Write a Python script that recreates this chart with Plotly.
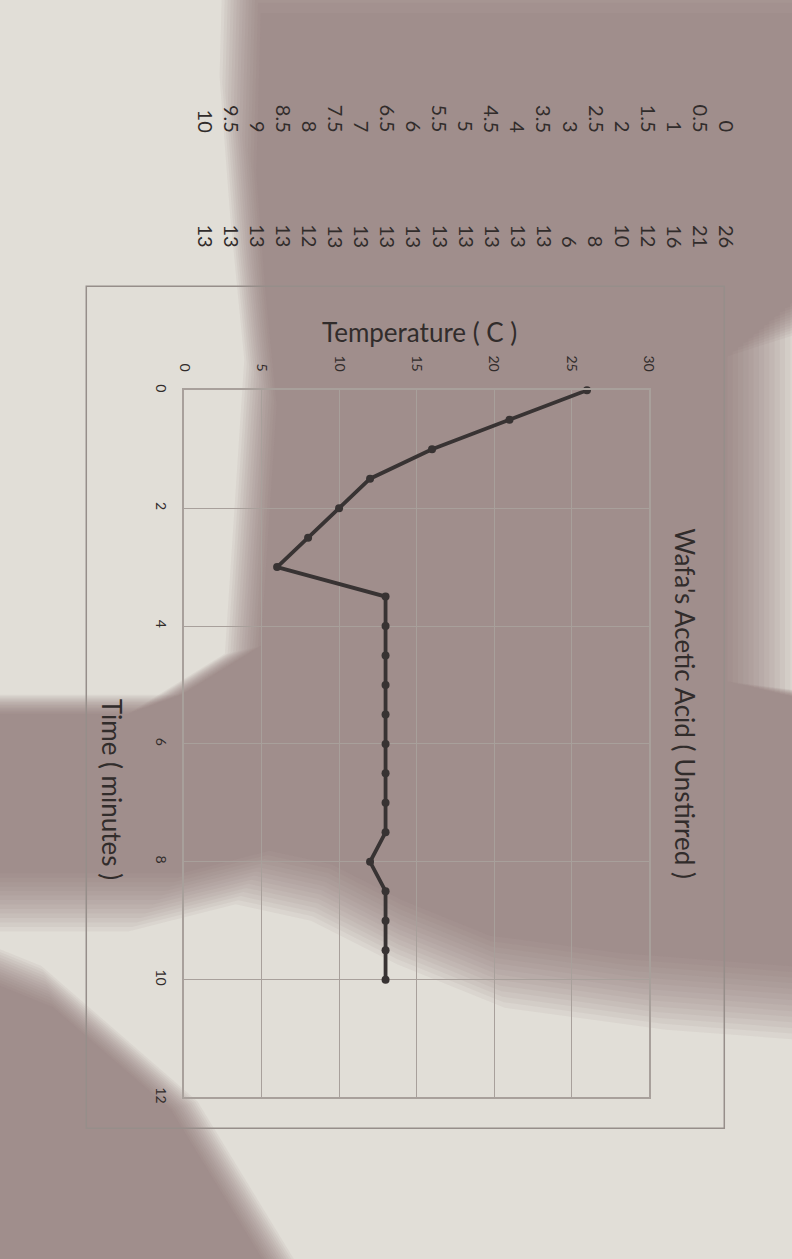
import plotly.graph_objects as go

# ---------------- data ----------------
time_min = [0, 0.5, 1, 1.5, 2, 2.5, 3, 3.5, 4, 4.5, 5, 5.5, 6, 6.5, 7, 7.5, 8, 8.5, 9, 9.5, 10]
temp_c = [26, 21, 16, 12, 10, 8, 6, 13, 13, 13, 13, 13, 13, 13, 13, 13, 12, 13, 13, 13, 13]
table_time_labels = ["0", "0.5", "1", "1.5", "2", "2.5", "3", "3.5", "4", "4.5", "5",
                     "5.5", "6", "6.5", "7", "7.5", "8", "8.5", "9", "9.5", "10"]
table_temp_labels = ["26", "21", "16", "12", "10", "8", "6", "13", "13", "13", "13",
                     "13", "13", "13", "13", "13", "12", "13", "13", "13", "13"]
temp_ticks = [0, 5, 10, 15, 20, 25, 30]
time_ticks = [0, 2, 4, 6, 8, 10, 12]
chart_title = "Wafa's Acetic Acid ( Unstirred )"
x_title = "Temperature ( C )"
y_title = "Time ( minutes )"

# ---------------- layout helpers ----------------
W, H = 792, 1259
FONT = "Lato"
INK = "#312c2b"
GRID = "#a8a09b"
PAPER = "#e1ded7"
SHADOW = "#866a6b"


def px(x):
    return x / W


def py(y):
    return 1 - y / H


def poly_path(points):
    return "M " + " L ".join(f"{px(x):.4f},{py(y):.4f}" for x, y in points) + " Z"


def scaled(points, k):
    cx = sum(p[0] for p in points) / len(points)
    cy = sum(p[1] for p in points) / len(points)
    return [(cx + (x - cx) * k, cy + (y - cy) * k) for x, y in points]


shadow_polys = [
    # main shadow with a tongue reaching the left edge
    ([(240, -60), (850, -60), (850, 300), (770, 325), (770, 690), (850, 700), (850, 1010),
      (650, 995), (500, 975), (400, 935), (320, 895), (250, 880), (150, 905), (-60, 905),
      (-60, 705), (150, 705), (240, 650), (258, 380), (245, 250), (235, 120)], 0.10),
    # lower-left diagonal shadow
    ([(-60, 950), (40, 990), (180, 1110), (310, 1320), (-60, 1320)], 0.14),
]

N_LAYERS = 14
shapes = []
for poly, spread in shadow_polys:
    ks = [1 + spread - i * (2 * spread) / (N_LAYERS - 1) for i in range(N_LAYERS)]
    for k in ks:
        shapes.append(dict(type="path", xref="paper", yref="paper", path=poly_path(scaled(poly, k)),
                           fillcolor=SHADOW, opacity=0.075, line=dict(width=0), layer="below"))

# chart-area border
shapes.append(dict(type="rect", xref="paper", yref="paper",
                   x0=px(80), x1=px(732), y0=py(1133), y1=py(283),
                   line=dict(color="#968e8a", width=1.5), fillcolor="rgba(0,0,0,0)", layer="below"))

fig = go.Figure()
fig.add_trace(go.Scatter(
    x=temp_c, y=time_min, mode="lines+markers",
    line=dict(color="#383333", width=3.8),
    marker=dict(size=8, color="#383333"),
    cliponaxis=False, showlegend=False, hoverinfo="skip"))

annotations = []
n = len(table_time_labels)
for i in range(n):
    xc = 735 - i * (735 - 202) / (n - 1)
    annotations.append(dict(text=table_time_labels[i], x=px(xc), y=py(130), xref="paper", yref="paper",
                            xanchor="center", yanchor="bottom", textangle=90, showarrow=False,
                            font=dict(family=FONT, size=20, color=INK)))
    annotations.append(dict(text=table_temp_labels[i], x=px(xc), y=py(246), xref="paper", yref="paper",
                            xanchor="center", yanchor="bottom", textangle=90, showarrow=False,
                            font=dict(family=FONT, size=20, color=INK)))

annotations.append(dict(text=chart_title, x=px(692), y=py(704), xref="paper", yref="paper",
                        xanchor="center", yanchor="middle", textangle=90, showarrow=False,
                        font=dict(family=FONT, size=26, color=INK)))
annotations.append(dict(text=y_title, x=px(106), y=py(791), xref="paper", yref="paper",
                        xanchor="center", yanchor="middle", textangle=90, showarrow=False,
                        font=dict(family=FONT, size=26, color=INK)))
annotations.append(dict(text=x_title, x=px(421), y=py(329), xref="paper", yref="paper",
                        xanchor="center", yanchor="middle", showarrow=False,
                        font=dict(family=FONT, size=26, color=INK)))

fig.update_layout(
    width=W, height=H,
    margin=dict(l=0, r=0, t=0, b=0),
    paper_bgcolor=PAPER, plot_bgcolor="rgba(0,0,0,0)",
    shapes=shapes, annotations=annotations,
    showlegend=False,
    xaxis=dict(domain=[px(180), px(655)], range=[0, 30], side="top",
               tickmode="array", tickvals=temp_ticks, ticktext=[str(t) for t in temp_ticks],
               tickangle=90, tickfont=dict(family=FONT, size=14, color=INK),
               showgrid=True, gridcolor=GRID, gridwidth=1.2, zeroline=False,
               showline=True, linecolor=GRID, linewidth=1.5, mirror=True,
               ticks="", ticklabelstandoff=12, fixedrange=True),
    yaxis=dict(domain=[py(1102), py(388)], range=[12, 0],
               tickmode="array", tickvals=time_ticks, ticktext=[str(t) for t in time_ticks],
               tickangle=90, tickfont=dict(family=FONT, size=14, color=INK),
               showgrid=True, gridcolor=GRID, gridwidth=1.2, zeroline=False,
               showline=True, linecolor=GRID, linewidth=1.5, mirror=True,
               ticks="", ticklabelstandoff=10, fixedrange=True),
)

fig.write_html("out.html")
